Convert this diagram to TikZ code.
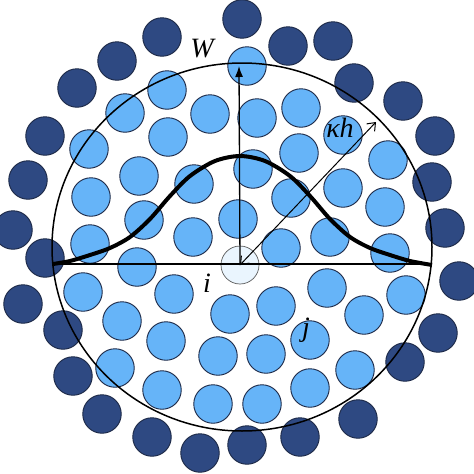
\documentclass[tikz,border=0pt]{standalone}
\usepackage{fontspec}
\setmainfont{Liberation Serif}
\usetikzlibrary{arrows.meta}

\definecolor{lightpart}{RGB}{102,180,248}
\definecolor{darkpart}{RGB}{46,73,130}
\definecolor{rimline}{RGB}{28,40,70}
\definecolor{selfpart}{RGB}{234,245,254}

\begin{document}
\begin{tikzpicture}[x=1pt,y=-1pt,>=Latex,
		inner part/.style={circle,draw=rimline,line width=0.9pt,fill=lightpart,minimum size=38.5pt,inner sep=0pt},
		outer part/.style={circle,draw=rimline,line width=0.9pt,fill=darkpart,minimum size=38.5pt,inner sep=0pt},
		label text/.style={font=\fontsize{28}{30}\selectfont\itshape,inner sep=0pt}]
		\useasboundingbox[fill=white] (0,0) rectangle (474,474);
		% boundary particles
		\foreach \x/\y [count=\n] in {242/19,162/37,288/46,333/41,117/61,77/88,354/83,403/101,
			45/136,435/136,28/180,432/182,13/230,445/228,45/258,459/281,23/304,438/333,
			63/330,405/362,73/376,102/414,358/419,152/437,200/453,247/445,300/437}
		\node[outer part] (o\n) at (\x,\y) {};
		% fluid particles
		\foreach \x/\y [count=\n] in {247/66,167/90,125/113,210/114,257/118,301/108,168/137,299/153,
			89/149,343/135,388/160,139/176,194/184,253/169,91/197,343/188,291/198,385/207,
			144/220,238/219,90/244,193/237,330/237,281/248,390/253,137/267,83/292,174/294,
			327/288,406/295,230/314,276/306,122/321,364/315,166/341,310/340,115/368,218/356,
			266/354,355/370,162/390,310/388,213/404,262/404}
		\node[inner part] (p\n) at (\x,\y) {};
		\node[circle,draw=gray!70!black,line width=0.7pt,fill=selfpart,minimum size=38pt,inner sep=0pt] (i) at (240,265) {};
		
		% support domain
		\draw[line width=1.5pt] (242,247) ellipse [x radius=190pt,y radius=184pt];
		\coordinate (lend) at (53,264);
		\coordinate (rend) at (432,264);
		\coordinate (wtop) at (239,66);
		\coordinate (khend) at (376,122);
		\draw[line width=2pt] (lend) -- (rend);
		\draw[line width=4pt] plot[smooth] coordinates {(53,264) (70,261) (90,255) (110,248) (130,237)
			(150,219) (170,196) (190,176) (215,161) (240,156) (265,161) (290,176) (310,196) (330,219)
			(350,237) (370,248) (390,255) (410,261) (432,265)};
		\draw[line width=1.3pt,-{Latex[length=11pt,width=8pt]}] (i.center) -- (wtop);
		\draw[line width=1pt,{Straight Barb[length=7pt,width=11pt]}-{Straight Barb[length=7pt,width=11pt]}] (i.center) -- (khend);
		
		\node[label text] (wlab) at (202,49) {W};
		\node[label text] (khlab) at (340,128) {κh};
		\node[label text] (ilab) at (207,283) {i};
		\node[label text] (jlab) at (306,330) {j};
\end{tikzpicture}
\end{document}
